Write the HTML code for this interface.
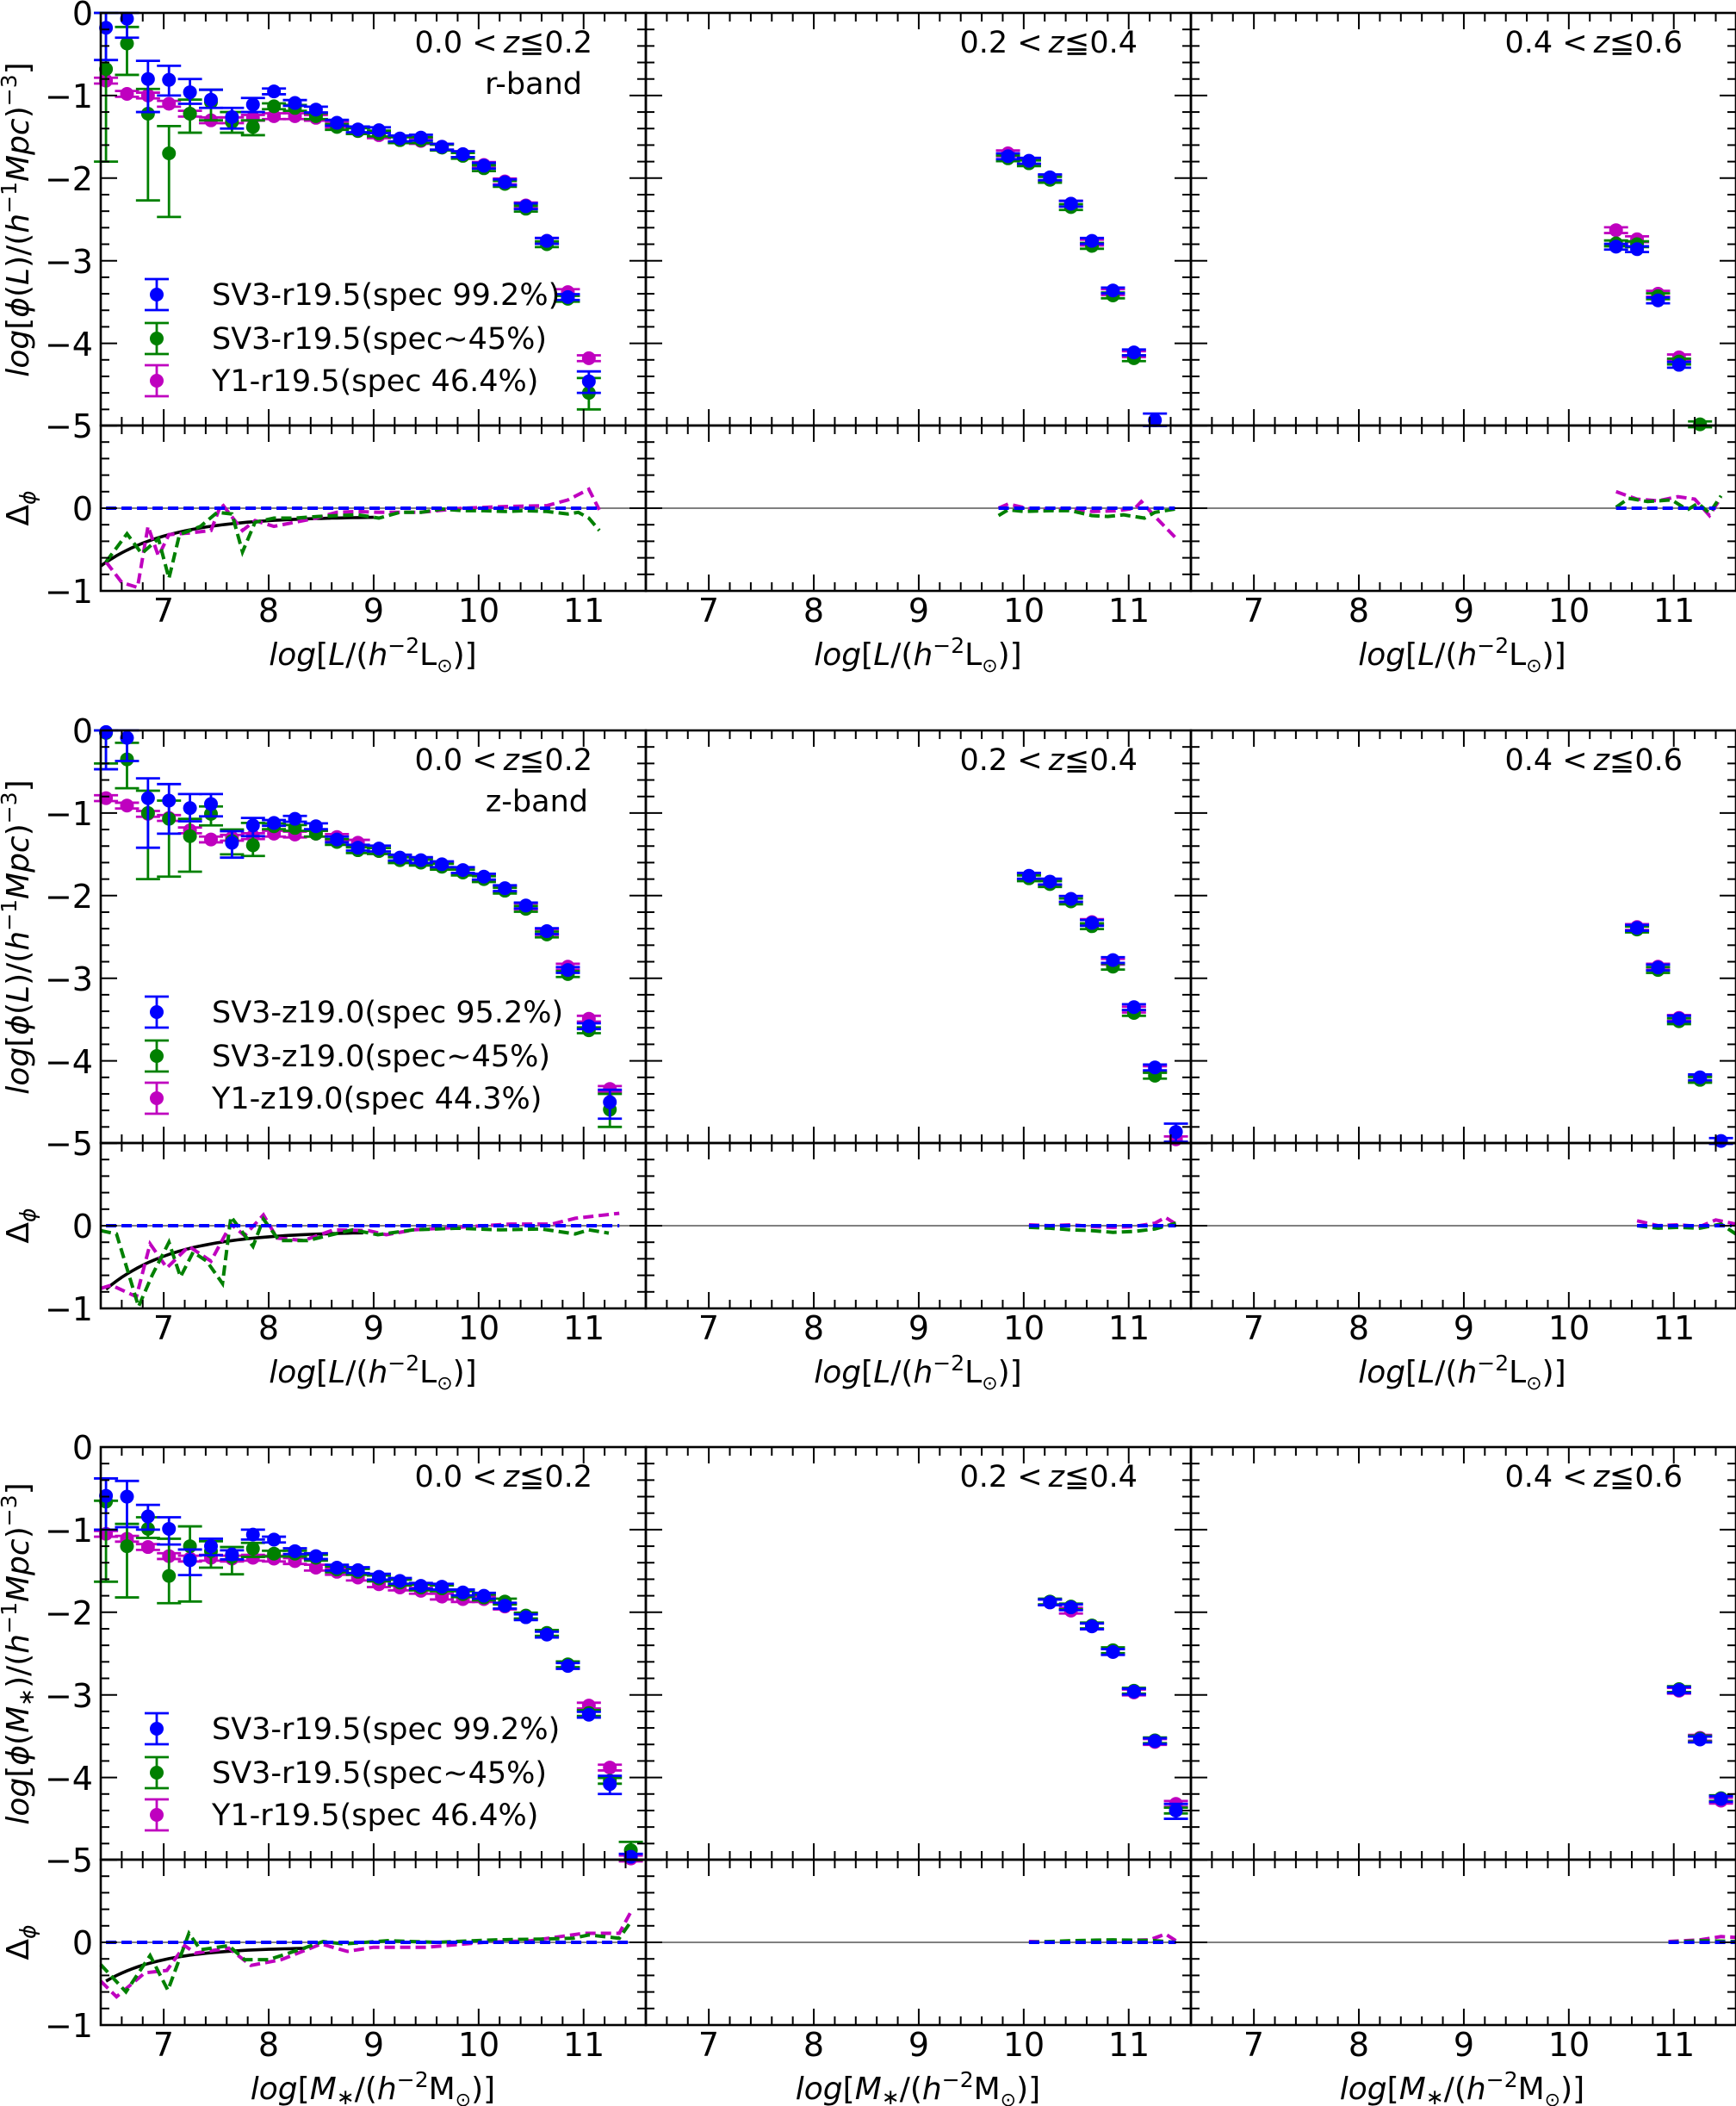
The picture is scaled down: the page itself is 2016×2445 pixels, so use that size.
<!DOCTYPE html>
<html><head><meta charset="utf-8">
<style>
html,body{margin:0;padding:0;background:#fff;}
svg{display:block;}
text{font-family:"DejaVu Sans","Liberation Sans",sans-serif;fill:#000;}
.tk{font-size:38px;}
.lg{font-size:35px;}
.al{font-size:36px;}
.it{font-style:italic;}
</style></head>
<body>
<svg id="s" width="2016" height="2445" viewBox="0 0 2016 2445" xmlns="http://www.w3.org/2000/svg">
<g id="plot"></g>
<g id="txt">
<g class="tk" text-anchor="end">
<text x="108" y="29">0</text><text x="108" y="125">−1</text><text x="108" y="221">−2</text><text x="108" y="317">−3</text><text x="108" y="413">−4</text><text x="108" y="508">−5</text>
<text x="108" y="604">0</text><text x="108" y="700">−1</text>
<text x="108" y="862">0</text><text x="108" y="958">−1</text><text x="108" y="1054">−2</text><text x="108" y="1150">−3</text><text x="108" y="1246">−4</text><text x="108" y="1341">−5</text>
<text x="108" y="1437">0</text><text x="108" y="1533">−1</text>
<text x="108" y="1694">0</text><text x="108" y="1790">−1</text><text x="108" y="1886">−2</text><text x="108" y="1982">−3</text><text x="108" y="2078">−4</text><text x="108" y="2173">−5</text>
<text x="108" y="2269">0</text><text x="108" y="2365">−1</text>
</g>
<g class="tk" text-anchor="middle">
<text x="190" y="722">7</text><text x="312" y="722">8</text><text x="434" y="722">9</text><text x="556" y="722">10</text><text x="678" y="722">11</text>
<text x="823" y="722">7</text><text x="945" y="722">8</text><text x="1067" y="722">9</text><text x="1189" y="722">10</text><text x="1311" y="722">11</text>
<text x="1456" y="722">7</text><text x="1578" y="722">8</text><text x="1700" y="722">9</text><text x="1822" y="722">10</text><text x="1944" y="722">11</text>
<text x="190" y="1555">7</text><text x="312" y="1555">8</text><text x="434" y="1555">9</text><text x="556" y="1555">10</text><text x="678" y="1555">11</text>
<text x="823" y="1555">7</text><text x="945" y="1555">8</text><text x="1067" y="1555">9</text><text x="1189" y="1555">10</text><text x="1311" y="1555">11</text>
<text x="1456" y="1555">7</text><text x="1578" y="1555">8</text><text x="1700" y="1555">9</text><text x="1822" y="1555">10</text><text x="1944" y="1555">11</text>
<text x="190" y="2387">7</text><text x="312" y="2387">8</text><text x="434" y="2387">9</text><text x="556" y="2387">10</text><text x="678" y="2387">11</text>
<text x="823" y="2387">7</text><text x="945" y="2387">8</text><text x="1067" y="2387">9</text><text x="1189" y="2387">10</text><text x="1311" y="2387">11</text>
<text x="1456" y="2387">7</text><text x="1578" y="2387">8</text><text x="1700" y="2387">9</text><text x="1822" y="2387">10</text><text x="1944" y="2387">11</text>
</g>
<g class="al" text-anchor="middle">
<text x="433" y="772"><tspan class="it">log</tspan>[<tspan class="it">L</tspan>/(<tspan class="it">h</tspan><tspan dy="-14" font-size="25">−2</tspan><tspan dy="14">L</tspan><tspan dy="8" font-size="22">⊙</tspan><tspan dy="-8">)]</tspan></text>
<text x="1066" y="772"><tspan class="it">log</tspan>[<tspan class="it">L</tspan>/(<tspan class="it">h</tspan><tspan dy="-14" font-size="25">−2</tspan><tspan dy="14">L</tspan><tspan dy="8" font-size="22">⊙</tspan><tspan dy="-8">)]</tspan></text>
<text x="1698" y="772"><tspan class="it">log</tspan>[<tspan class="it">L</tspan>/(<tspan class="it">h</tspan><tspan dy="-14" font-size="25">−2</tspan><tspan dy="14">L</tspan><tspan dy="8" font-size="22">⊙</tspan><tspan dy="-8">)]</tspan></text>
<text x="433" y="1605"><tspan class="it">log</tspan>[<tspan class="it">L</tspan>/(<tspan class="it">h</tspan><tspan dy="-14" font-size="25">−2</tspan><tspan dy="14">L</tspan><tspan dy="8" font-size="22">⊙</tspan><tspan dy="-8">)]</tspan></text>
<text x="1066" y="1605"><tspan class="it">log</tspan>[<tspan class="it">L</tspan>/(<tspan class="it">h</tspan><tspan dy="-14" font-size="25">−2</tspan><tspan dy="14">L</tspan><tspan dy="8" font-size="22">⊙</tspan><tspan dy="-8">)]</tspan></text>
<text x="1698" y="1605"><tspan class="it">log</tspan>[<tspan class="it">L</tspan>/(<tspan class="it">h</tspan><tspan dy="-14" font-size="25">−2</tspan><tspan dy="14">L</tspan><tspan dy="8" font-size="22">⊙</tspan><tspan dy="-8">)]</tspan></text>
<text x="433" y="2437"><tspan class="it">log</tspan>[<tspan class="it">M</tspan><tspan font-size="25" dy="6">∗</tspan><tspan dy="-6">/(</tspan><tspan class="it">h</tspan><tspan dy="-14" font-size="25">−2</tspan><tspan dy="14">M</tspan><tspan dy="8" font-size="22">⊙</tspan><tspan dy="-8">)]</tspan></text>
<text x="1066" y="2437"><tspan class="it">log</tspan>[<tspan class="it">M</tspan><tspan font-size="25" dy="6">∗</tspan><tspan dy="-6">/(</tspan><tspan class="it">h</tspan><tspan dy="-14" font-size="25">−2</tspan><tspan dy="14">M</tspan><tspan dy="8" font-size="22">⊙</tspan><tspan dy="-8">)]</tspan></text>
<text x="1698" y="2437"><tspan class="it">log</tspan>[<tspan class="it">M</tspan><tspan font-size="25" dy="6">∗</tspan><tspan dy="-6">/(</tspan><tspan class="it">h</tspan><tspan dy="-14" font-size="25">−2</tspan><tspan dy="14">M</tspan><tspan dy="8" font-size="22">⊙</tspan><tspan dy="-8">)]</tspan></text>
</g>
<g class="al" text-anchor="middle">
<text transform="translate(33,255) rotate(-90)"><tspan class="it">log</tspan>[<tspan class="it">ϕ</tspan>(<tspan class="it">L</tspan>)/(<tspan class="it">h</tspan><tspan dy="-14" font-size="25">−1</tspan><tspan dy="14" class="it">Mpc</tspan>)<tspan dy="-14" font-size="25">−3</tspan><tspan dy="14">]</tspan></text>
<text transform="translate(33,1088) rotate(-90)"><tspan class="it">log</tspan>[<tspan class="it">ϕ</tspan>(<tspan class="it">L</tspan>)/(<tspan class="it">h</tspan><tspan dy="-14" font-size="25">−1</tspan><tspan dy="14" class="it">Mpc</tspan>)<tspan dy="-14" font-size="25">−3</tspan><tspan dy="14">]</tspan></text>
<text transform="translate(33,1920) rotate(-90)"><tspan class="it">log</tspan>[<tspan class="it">ϕ</tspan>(<tspan class="it">M</tspan><tspan font-size="25" dy="6">∗</tspan><tspan dy="-6">)/(</tspan><tspan class="it">h</tspan><tspan dy="-14" font-size="25">−1</tspan><tspan dy="14" class="it">Mpc</tspan>)<tspan dy="-14" font-size="25">−3</tspan><tspan dy="14">]</tspan></text>
<text transform="translate(33,590) rotate(-90)">Δ<tspan dy="8" font-size="25" class="it">ϕ</tspan></text>
<text transform="translate(33,1423) rotate(-90)">Δ<tspan dy="8" font-size="25" class="it">ϕ</tspan></text>
<text transform="translate(33,2255) rotate(-90)">Δ<tspan dy="8" font-size="25" class="it">ϕ</tspan></text>
</g>
<g class="lg" text-anchor="end">
<text x="688" y="61">0.0 &lt;&#8201;<tspan class="it">z</tspan>≦0.2</text>
<text x="676" y="109">r-band</text>
<text x="1321" y="61">0.2 &lt;&#8201;<tspan class="it">z</tspan>≦0.4</text>
<text x="1954" y="61">0.4 &lt;&#8201;<tspan class="it">z</tspan>≦0.6</text>
<text x="688" y="894">0.0 &lt;&#8201;<tspan class="it">z</tspan>≦0.2</text>
<text x="683" y="942">z-band</text>
<text x="1321" y="894">0.2 &lt;&#8201;<tspan class="it">z</tspan>≦0.4</text>
<text x="1954" y="894">0.4 &lt;&#8201;<tspan class="it">z</tspan>≦0.6</text>
<text x="688" y="1726">0.0 &lt;&#8201;<tspan class="it">z</tspan>≦0.2</text>
<text x="1321" y="1726">0.2 &lt;&#8201;<tspan class="it">z</tspan>≦0.4</text>
<text x="1954" y="1726">0.4 &lt;&#8201;<tspan class="it">z</tspan>≦0.6</text>
</g>
<g class="lg">
<text x="246" y="354">SV3-r19.5(spec 99.2%)</text>
<text x="246" y="405">SV3-r19.5(spec~45%)</text>
<text x="246" y="454">Y1-r19.5(spec 46.4%)</text>
<text x="246" y="1187">SV3-z19.0(spec 95.2%)</text>
<text x="246" y="1238">SV3-z19.0(spec~45%)</text>
<text x="246" y="1287">Y1-z19.0(spec 44.3%)</text>
<text x="246" y="2019">SV3-r19.5(spec 99.2%)</text>
<text x="246" y="2070">SV3-r19.5(spec~45%)</text>
<text x="246" y="2119">Y1-r19.5(spec 46.4%)</text>
</g>
</g>
</svg>
<script>
(function(){
var NS="http://www.w3.org/2000/svg";
var g=document.getElementById("plot");
function el(t,a){var e=document.createElementNS(NS,t);for(var k in a)e.setAttribute(k,a[k]);g.appendChild(e);return e;}
var TOPS=[15,848,1680];
var B="#0000ff",G="#008000",M="#bf00bf";
function X(c,x){return 117+633*c+(x-6.4)*121.9;}
function YM(r,y){return TOPS[r]-y*95.9;}
function YR(r,y){return TOPS[r]+575-y*95.8;}
function mk(x0,ys,errs){return {x0:x0,ys:ys,errs:errs||{}};}
var P={};
P["0_0"]={
 m:mk(6.45,[-0.82,-0.98,-1.0,-1.1,-1.22,-1.3,-1.3,-1.27,-1.25,-1.25,-1.27,-1.35,-1.43,-1.48,-1.53,-1.55,-1.62,-1.71,-1.84,-2.04,-2.33,-2.76,-3.38,-4.18]),
 g:mk(6.45,[-0.68,-0.37,-1.22,-1.7,-1.22,-1.08,-1.32,-1.38,-1.13,-1.15,-1.25,-1.38,-1.43,-1.46,-1.54,-1.54,-1.63,-1.73,-1.88,-2.07,-2.37,-2.8,-3.46,-4.6],
   {0:[0,-1.8],1:[-0.17,-0.75],2:[-0.92,-2.27],3:[-1.37,-2.47],4:[-1.05,-1.45],5:[-0.93,-1.3],6:[-1.2,-1.45],7:[-1.3,-1.48],23:[-4.42,-4.8]}),
 b:mk(6.45,[-0.18,-0.07,-0.80,-0.81,-0.96,-1.05,-1.26,-1.11,-0.95,-1.09,-1.17,-1.33,-1.41,-1.42,-1.52,-1.51,-1.62,-1.71,-1.85,-2.05,-2.34,-2.76,-3.44,-4.46],
   {0:[0,-0.57],1:[0,-0.3],2:[-0.58,-1.2],3:[-0.64,-1.0],4:[-0.8,-1.1],5:[-0.93,-1.15],6:[-1.15,-1.4],7:[-1.03,-1.2],23:[-4.34,-4.6]}),
 rb:[6.45,11.15],
 rg:[[6.45,-0.65],[6.65,-0.31],[6.79,-0.55],[6.95,-0.37],[7.05,-0.85],[7.15,-0.32],[7.35,-0.22],[7.51,-0.05],[7.65,-0.07],[7.75,-0.53],[7.87,-0.17],[8.05,-0.12],[8.25,-0.12],[8.47,-0.1],[8.65,-0.09],[8.85,-0.08],[9.05,-0.12],[9.25,-0.05],[9.45,-0.05],[9.65,-0.01],[9.85,-0.03],[10.05,-0.03],[10.25,-0.04],[10.45,-0.03],[10.65,-0.04],[10.85,-0.07],[10.95,-0.05],[11.05,-0.12],[11.15,-0.27]],
 rm:[[6.45,-0.65],[6.6,-0.9],[6.75,-0.96],[6.85,-0.22],[6.95,-0.58],[7.05,-0.32],[7.25,-0.3],[7.45,-0.27],[7.55,0.06],[7.75,-0.27],[7.87,-0.15],[8.05,-0.22],[8.25,-0.17],[8.45,-0.12],[8.65,-0.05],[8.85,-0.04],[9.05,-0.05],[9.45,-0.05],[9.85,0.0],[10.25,0.02],[10.65,0.03],[10.85,0.1],[11.05,0.23],[11.15,-0.02]],
 curve:[6.4,9.0,-0.70,-0.10,0.65]
};
P["0_1"]={
 m:mk(9.85,[-1.70,-1.80,-2.0,-2.31,-2.78,-3.38,-4.13]),
 g:mk(9.85,[-1.76,-1.82,-2.02,-2.35,-2.82,-3.42,-4.18]),
 b:mk(9.85,[-1.735,-1.79,-1.99,-2.31,-2.76,-3.36,-4.11,-4.93],{7:[-4.85,-5.0]}),
 rb:[9.76,11.44],
 rg:[[9.76,-0.09],[9.85,-0.02],[10.0,-0.04],[10.25,-0.03],[10.45,-0.03],[10.65,-0.09],[10.8,-0.1],[10.95,-0.08],[11.15,-0.12],[11.25,-0.05],[11.44,-0.01]],
 rm:[[9.76,0],[9.85,0.05],[10.1,-0.02],[10.45,-0.01],[10.65,-0.04],[10.9,-0.03],[11.06,0],[11.12,0.08],[11.25,-0.1],[11.44,-0.35]]
};
P["0_2"]={
 m:mk(10.45,[-2.63,-2.74,-3.40,-4.17]),
 g:mk(10.45,[-2.79,-2.8,-3.43,-4.22,-4.98]),
 b:mk(10.45,[-2.83,-2.86,-3.48,-4.26]),
 rb:[10.45,11.4],
 rg:[[10.45,0.01],[10.57,0.12],[10.75,0.08],[10.98,0.1],[11.13,-0.02],[11.23,0.06],[11.34,-0.06],[11.45,0.15]],
 rm:[[10.45,0.2],[10.65,0.11],[10.85,0.09],[11.04,0.14],[11.2,0.11],[11.34,-0.09],[11.45,0.13]]
};
P["1_0"]={
 m:mk(6.45,[-0.82,-0.91,-1.01,-1.06,-1.21,-1.32,-1.30,-1.28,-1.25,-1.26,-1.25,-1.29,-1.36,-1.46,-1.55,-1.58,-1.63,-1.70,-1.78,-1.92,-2.13,-2.44,-2.86,-3.49,-4.34]),
 g:mk(6.45,[-0.03,-0.35,-1.0,-1.07,-1.28,-1.01,-1.34,-1.39,-1.16,-1.18,-1.25,-1.35,-1.45,-1.46,-1.57,-1.60,-1.65,-1.72,-1.80,-1.94,-2.16,-2.47,-2.95,-3.63,-4.59],
   {0:[0,-0.4],1:[-0.15,-0.7],2:[-0.73,-1.8],3:[-0.85,-1.77],4:[-1.07,-1.71],5:[-0.92,-1.15],6:[-1.2,-1.5],7:[-1.12,-1.52],24:[-4.4,-4.8]}),
 b:mk(6.45,[-0.02,-0.09,-0.82,-0.85,-0.94,-0.89,-1.36,-1.15,-1.12,-1.07,-1.16,-1.32,-1.42,-1.43,-1.54,-1.57,-1.62,-1.69,-1.77,-1.91,-2.12,-2.43,-2.9,-3.58,-4.5],
   {0:[0,-0.47],1:[0,-0.37],2:[-0.58,-1.42],3:[-0.65,-1.25],4:[-0.77,-1.1],5:[-0.77,-1.04],6:[-1.22,-1.54],7:[-1.06,-1.28],24:[-4.35,-4.7]}),
 rb:[6.45,11.34],
 rg:[[6.4,-0.06],[6.55,-0.1],[6.76,-0.98],[6.89,-0.6],[7.05,-0.2],[7.16,-0.62],[7.28,-0.32],[7.41,-0.43],[7.56,-0.7],[7.64,0.11],[7.85,-0.25],[7.95,0.08],[8.1,-0.18],[8.37,-0.18],[8.8,-0.05],[9.04,-0.11],[9.38,-0.05],[9.8,-0.03],[10.2,-0.05],[10.6,-0.04],[10.92,-0.1],[11.05,-0.05],[11.24,-0.09]],
 rm:[[6.4,-0.76],[6.5,-0.72],[6.74,-0.86],[6.87,-0.22],[7.03,-0.51],[7.24,-0.25],[7.45,-0.43],[7.64,0.02],[7.77,-0.12],[7.95,0.13],[8.08,-0.15],[8.33,-0.18],[8.62,-0.05],[8.95,-0.06],[9.12,-0.11],[9.38,-0.05],[9.8,-0.02],[10.3,0.02],[10.7,0.02],[10.92,0.09],[11.34,0.15]],
 curve:[6.45,8.9,-0.77,-0.07,0.65]
};
P["1_1"]={
 m:mk(10.05,[-1.77,-1.84,-2.04,-2.32,-2.8,-3.38,-4.1,-4.95]),
 g:mk(10.05,[-1.79,-1.86,-2.07,-2.37,-2.86,-3.42,-4.18]),
 b:mk(10.05,[-1.76,-1.83,-2.04,-2.33,-2.78,-3.35,-4.08,-4.86],{7:[-4.76,-4.98]}),
 rb:[10.05,11.45],
 rg:[[10.05,-0.02],[10.25,-0.03],[10.45,-0.05],[10.65,-0.06],[10.85,-0.08],[11.05,-0.07],[11.25,-0.04],[11.45,0.03]],
 rm:[[10.05,0.01],[10.25,0.0],[10.45,0.01],[10.65,-0.01],[10.85,-0.02],[11.05,-0.01],[11.25,0.03],[11.35,0.1],[11.45,0.02]]
};
P["1_2"]={
 m:mk(10.65,[-2.38,-2.86,-3.48,-4.22]),
 g:mk(10.65,[-2.41,-2.9,-3.52,-4.23]),
 b:mk(10.65,[-2.39,-2.87,-3.49,-4.20,-4.97]),
 rb:[10.65,11.55],
 rg:[[10.65,0.0],[10.85,-0.03],[11.05,-0.02],[11.25,-0.03],[11.45,0.02],[11.59,-0.1]],
 rm:[[10.65,0.06],[10.85,0.0],[11.05,0.01],[11.25,-0.01],[11.4,0.07],[11.59,0.02]]
};
P["2_0"]={
 m:mk(6.45,[-1.05,-1.11,-1.21,-1.32,-1.35,-1.34,-1.35,-1.34,-1.35,-1.38,-1.46,-1.51,-1.58,-1.66,-1.70,-1.74,-1.81,-1.84,-1.84,-1.93,-2.05,-2.26,-2.64,-3.13,-3.88,-4.98]),
 g:mk(6.45,[-0.66,-1.20,-0.99,-1.56,-1.20,-1.26,-1.33,-1.23,-1.29,-1.29,-1.34,-1.48,-1.51,-1.59,-1.64,-1.70,-1.71,-1.78,-1.82,-1.87,-2.04,-2.25,-2.63,-3.22,-4.04,-4.88],
   {0:[-0.65,-1.63],1:[-0.93,-1.82],2:[-0.85,-1.1],3:[-1.11,-1.89],4:[-0.96,-1.87],5:[-1.14,-1.46],6:[-1.21,-1.54],7:[-1.16,-1.33],25:[-4.78,-5.0]}),
 b:mk(6.45,[-0.59,-0.60,-0.84,-0.99,-1.37,-1.20,-1.30,-1.06,-1.12,-1.26,-1.32,-1.46,-1.49,-1.57,-1.62,-1.68,-1.69,-1.76,-1.80,-1.92,-2.06,-2.27,-2.65,-3.24,-4.08,-4.96],
   {0:[-0.38,-1.0],1:[-0.41,-0.97],2:[-0.70,-1.0],3:[-0.85,-1.18],4:[-1.24,-1.55],5:[-1.11,-1.31],6:[-1.25,-1.36],7:[-1.0,-1.12],24:[-3.98,-4.2]}),
 rb:[6.45,11.45],
 rg:[[6.4,-0.27],[6.64,-0.6],[6.87,-0.16],[7.04,-0.58],[7.24,0.11],[7.35,-0.09],[7.62,-0.04],[7.77,-0.21],[8.0,-0.21],[8.29,-0.09],[8.52,0.01],[8.71,-0.02],[9.13,0.02],[9.6,0.0],[10.17,0.03],[10.6,0.04],[10.9,0.05],[11.05,0.09],[11.34,0.05],[11.45,0.25]],
 rm:[[6.4,-0.47],[6.55,-0.66],[6.82,-0.37],[7.03,-0.34],[7.2,-0.04],[7.3,-0.13],[7.62,-0.07],[7.83,-0.28],[8.12,-0.21],[8.5,-0.02],[8.75,-0.11],[9.0,-0.06],[9.5,-0.06],[10.05,0.0],[10.5,0.02],[11.0,0.11],[11.34,0.11],[11.45,0.37]],
 curve:[6.45,8.35,-0.47,-0.06,0.55]
};
P["2_1"]={
 m:mk(10.25,[-1.88,-1.98,-2.17,-2.48,-2.97,-3.57,-4.32]),
 g:mk(10.25,[-1.87,-1.93,-2.16,-2.46,-2.95,-3.55,-4.40]),
 b:mk(10.25,[-1.88,-1.94,-2.17,-2.48,-2.96,-3.56,-4.40],{6:[-4.32,-4.5]}),
 rb:[10.05,11.45],
 rg:[[10.05,0.0],[10.45,0.02],[10.85,0.03],[11.25,0.02],[11.45,0.0]],
 rm:[[10.05,0.01],[10.45,0.0],[10.85,0.02],[11.2,0.03],[11.35,0.1],[11.45,0.02]]
};
P["2_2"]={
 m:mk(11.05,[-2.95,-3.52,-4.28]),
 g:mk(11.05,[-2.93,-3.53,-4.25]),
 b:mk(11.05,[-2.94,-3.54,-4.26]),
 rb:[10.95,11.59],
 rg:[[10.95,0.0],[11.25,0.02],[11.59,0.01]],
 rm:[[10.95,0.01],[11.25,0.03],[11.45,0.07],[11.59,0.06]]
};
function clipY(v){return Math.max(-5.08,Math.min(0.05,v));}
function series(r,c,s,col){
  for(var i=0;i<s.ys.length;i++){
    var x=X(c,s.x0+0.2*i), y=s.ys[i];
    var e=s.errs[i]||[y+0.035,y-0.035];
    var y1=YM(r,clipY(e[0])),y2=YM(r,clipY(e[1]));
    el("line",{x1:x,x2:x,y1:y1,y2:y2,stroke:col,"stroke-width":2.8});
    el("line",{x1:x-14,x2:x+14,y1:y1,y2:y1,stroke:col,"stroke-width":2.8});
    el("line",{x1:x-14,x2:x+14,y1:y2,y2:y2,stroke:col,"stroke-width":2.8});
    el("circle",{cx:x,cy:YM(r,y),r:8,fill:col});
  }
}
function poly(r,c,pts,col,dash,w){
  var d=pts.map(function(p){return X(c,p[0]).toFixed(1)+","+YR(r,p[1]).toFixed(1);}).join(" ");
  var a={points:d,fill:"none",stroke:col,"stroke-width":w||4};
  if(dash)a["stroke-dasharray"]=dash;
  el("polyline",a);
}
for(var r=0;r<3;r++){
 var T=TOPS[r];
 for(var c=0;c<3;c++){
  var x0=117+633*c,x1=x0+633,p=P[r+"_"+c];
  el("line",{x1:x0,x2:x1,y1:T+575,y2:T+575,stroke:"#808080","stroke-width":2});
  if(p.curve){var cv=p.curve,cp=[];for(var t=cv[0];t<=cv[1]+1e-6;t+=0.05){cp.push([t,cv[3]+(cv[2]-cv[3])*Math.exp(-(t-cv[0])/cv[4])]);}
    poly(r,c,cp,"#000",null,3.6);}
  poly(r,c,p.rm,M,"12,6");
  poly(r,c,p.rg,G,"12,6");
  poly(r,c,[[p.rb[0],0],[p.rb[1],0]],B,"12,6");
  series(r,c,p.m,M);series(r,c,p.g,G);series(r,c,p.b,B);
  var tk=[];
  for(var k=0;k<=26;k++){var xv=6.4+0.2*k; if(xv>11.6)break;
    var xx=X(c,xv); var maj=Math.abs(xv-Math.round(xv))<0.01; var L=maj?19:10;
    [T,T+479].forEach(function(yy){tk.push([xx,yy,xx,yy+L]);});
    [T+479,T+671].forEach(function(yy){tk.push([xx,yy,xx,yy-L]);});
  }
  for(var k=0;k<=25;k++){var yy=T+k*95.9/5; var L=(k%5==0)?19:10;
    tk.push([x0,yy,x0+L,yy]);tk.push([x1,yy,x1-L,yy]);}
  for(var k=0;k<=10;k++){var yy=T+479+k*19.2; var L=(k%5==0)?19:10;
    tk.push([x0,yy,x0+L,yy]);tk.push([x1,yy,x1-L,yy]);}
  tk.forEach(function(t){el("line",{x1:t[0],y1:t[1],x2:t[2],y2:t[3],stroke:"#000","stroke-width":2});});
  el("rect",{x:x0,y:T,width:633,height:479,fill:"none",stroke:"#000","stroke-width":2.6});
  el("rect",{x:x0,y:T+479,width:633,height:192,fill:"none",stroke:"#000","stroke-width":2.6});
 }
 var lc=[B,G,M],ly=[327,378,427];
 for(var i=0;i<3;i++){var cx=182,cy=T+ly[i];
  el("line",{x1:cx,x2:cx,y1:cy-18,y2:cy+18,stroke:lc[i],"stroke-width":2.8});
  el("line",{x1:cx-14,x2:cx+14,y1:cy-18,y2:cy-18,stroke:lc[i],"stroke-width":2.8});
  el("line",{x1:cx-14,x2:cx+14,y1:cy+18,y2:cy+18,stroke:lc[i],"stroke-width":2.8});
  el("circle",{cx:cx,cy:cy,r:8,fill:lc[i]});}
}
})();
</script>
</body></html>
